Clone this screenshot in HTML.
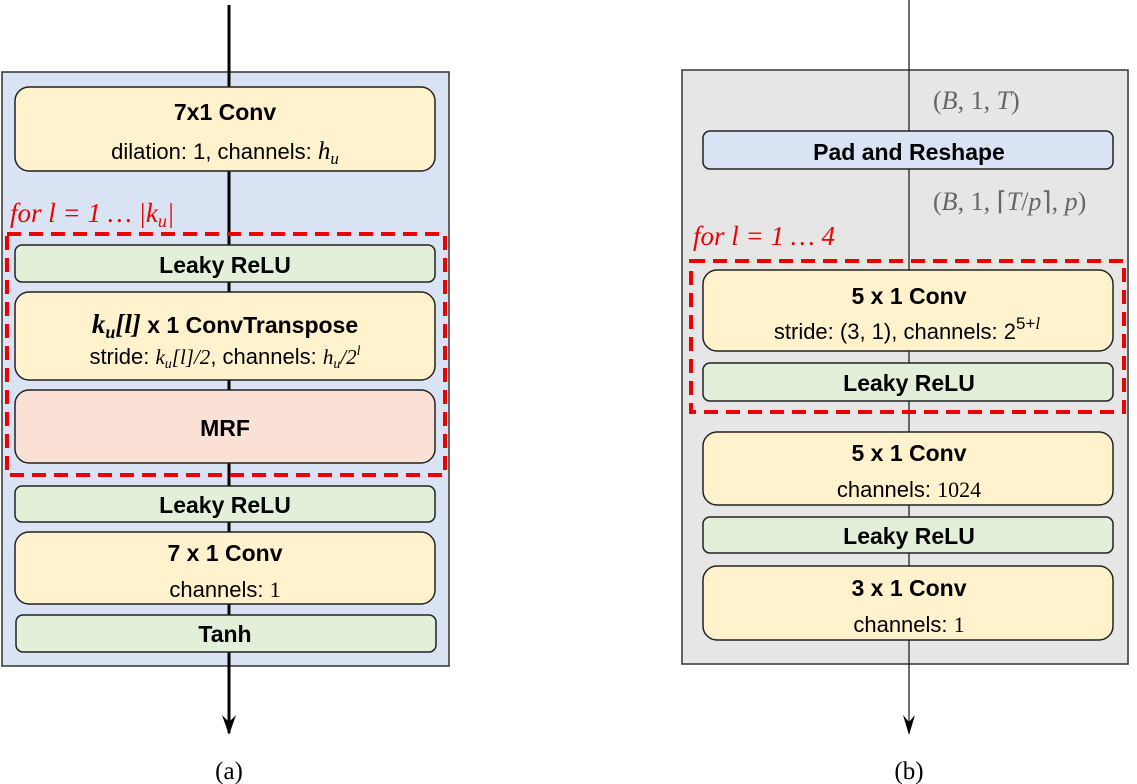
<!DOCTYPE html>
<html><head><meta charset="utf-8"><style>
body{margin:0;background:#fff}
svg{display:block}
.b{font-family:"Liberation Sans",sans-serif;font-weight:bold;font-size:23px;text-anchor:middle;fill:#000}
.n{font-family:"Liberation Sans",sans-serif;font-size:22px;text-anchor:middle;fill:#000}
.m{font-family:"Liberation Serif",serif;font-style:italic}
.g{font-family:"Liberation Serif",serif;font-size:26px;fill:#666}
.r{font-family:"Liberation Serif",serif;font-style:italic;font-size:27px;fill:#e00}
</style></head><body>
<svg width="1137" height="784" viewBox="0 0 1137 784">
<rect x="2" y="72" width="447" height="594" fill="#dae3f3" stroke="#333" stroke-width="1.5"/>
<line x1="229" y1="5" x2="229" y2="733" stroke="#000" stroke-width="3"/>
<path d="M222,715 L229,735 L236,715 L229,722z" fill="#000"/>
<g stroke="#222" stroke-width="1.5">
<rect x="15" y="87" width="420" height="84" rx="14" fill="#fff2cc"/>
<rect x="15" y="245" width="420" height="37" rx="7" fill="#e2f0d9"/>
<rect x="15" y="292" width="420" height="88" rx="14" fill="#fff2cc"/>
<rect x="15" y="390" width="420" height="73" rx="14" fill="#fbe0d6"/>
<rect x="15" y="486" width="420" height="36" rx="7" fill="#e2f0d9"/>
<rect x="15" y="532" width="420" height="72" rx="14" fill="#fff2cc"/>
<rect x="16" y="615" width="420" height="37" rx="7" fill="#e2f0d9"/>
</g>
<rect x="7" y="234" width="438" height="241" fill="none" stroke="#e00" stroke-width="4" stroke-dasharray="14,8"/>
<text class="b" x="225" y="120">7x1 Conv</text>
<text class="n" x="225" y="159">dilation: 1, channels: <tspan class="m" font-size="25">h<tspan font-size="17" dy="5">u</tspan></tspan></text>
<text class="r" x="10" y="222">for  l = 1  … |k<tspan font-size="18" dy="5">u</tspan><tspan dy="-5">|</tspan></text>
<text class="b" x="225" y="273">Leaky ReLU</text>
<text class="b" x="225" y="333"><tspan font-family="Liberation Serif" font-style="italic" font-size="27">k<tspan font-size="18" dy="5">u</tspan><tspan dy="-5">[l]</tspan></tspan> x 1  ConvTranspose</text>
<text class="n" x="225" y="364" font-size="19">stride: <tspan class="m" font-size="21">k<tspan font-size="14" dy="4">u</tspan><tspan dy="-4">[l]/2</tspan></tspan>, channels: <tspan class="m" font-size="21">h<tspan font-size="14" dy="4">u</tspan><tspan dy="-4">/2</tspan><tspan font-size="14" dy="-9">l</tspan></tspan></text>
<text class="b" x="225" y="436">MRF</text>
<text class="b" x="225" y="513">Leaky ReLU</text>
<text class="b" x="225" y="561">7 x 1  Conv</text>
<text class="n" x="225" y="597">channels: <tspan font-family="Liberation Serif">1</tspan></text>
<text class="b" x="225" y="642">Tanh</text>
<text x="229" y="779" font-family="Liberation Serif" font-size="25" text-anchor="middle">(a)</text>
<rect x="682" y="70" width="446" height="594" fill="#e7e6e6" stroke="#333" stroke-width="1.5"/>
<line x1="909" y1="0" x2="909" y2="733" stroke="#222" stroke-width="1.3"/>
<path d="M903,715 L909,735 L915,715 L909,722z" fill="#000"/>
<g stroke="#222" stroke-width="1.5">
<rect x="703" y="131" width="410" height="38" rx="7" fill="#dae3f3"/>
<rect x="703" y="270" width="410" height="81" rx="14" fill="#fff2cc"/>
<rect x="703" y="363" width="410" height="38" rx="7" fill="#e2f0d9"/>
<rect x="703" y="432" width="410" height="73" rx="14" fill="#fff2cc"/>
<rect x="703" y="517" width="410" height="36" rx="7" fill="#e2f0d9"/>
<rect x="703" y="566" width="410" height="74" rx="14" fill="#fff2cc"/>
</g>
<rect x="691" y="261" width="433" height="151" fill="none" stroke="#e00" stroke-width="4" stroke-dasharray="14,8"/>
<text class="g" x="933" y="109">(<tspan font-style="italic">B</tspan>, 1, <tspan font-style="italic">T</tspan>)</text>
<text class="b" x="909" y="160">Pad and Reshape</text>
<text class="g" x="933" y="210">(<tspan font-style="italic">B</tspan>, 1, ⌈<tspan font-style="italic">T</tspan>/<tspan font-style="italic">p</tspan>⌉, <tspan font-style="italic">p</tspan>)</text>
<text class="r" x="693" y="245">for  l = 1  … 4</text>
<text class="b" x="909" y="304">5 x 1  Conv</text>
<text class="n" x="907" y="339">stride: (3, 1), channels: 2<tspan font-size="17" dy="-10">5+<tspan class="m">l</tspan></tspan></text>
<text class="b" x="909" y="391">Leaky ReLU</text>
<text class="b" x="909" y="461">5 x 1  Conv</text>
<text class="n" x="909" y="497">channels: <tspan font-family="Liberation Serif">1024</tspan></text>
<text class="b" x="909" y="544">Leaky ReLU</text>
<text class="b" x="909" y="596">3 x 1  Conv</text>
<text class="n" x="909" y="632">channels: <tspan font-family="Liberation Serif">1</tspan></text>
<text x="909" y="779" font-family="Liberation Serif" font-size="25" text-anchor="middle">(b)</text>
</svg>
</body></html>
